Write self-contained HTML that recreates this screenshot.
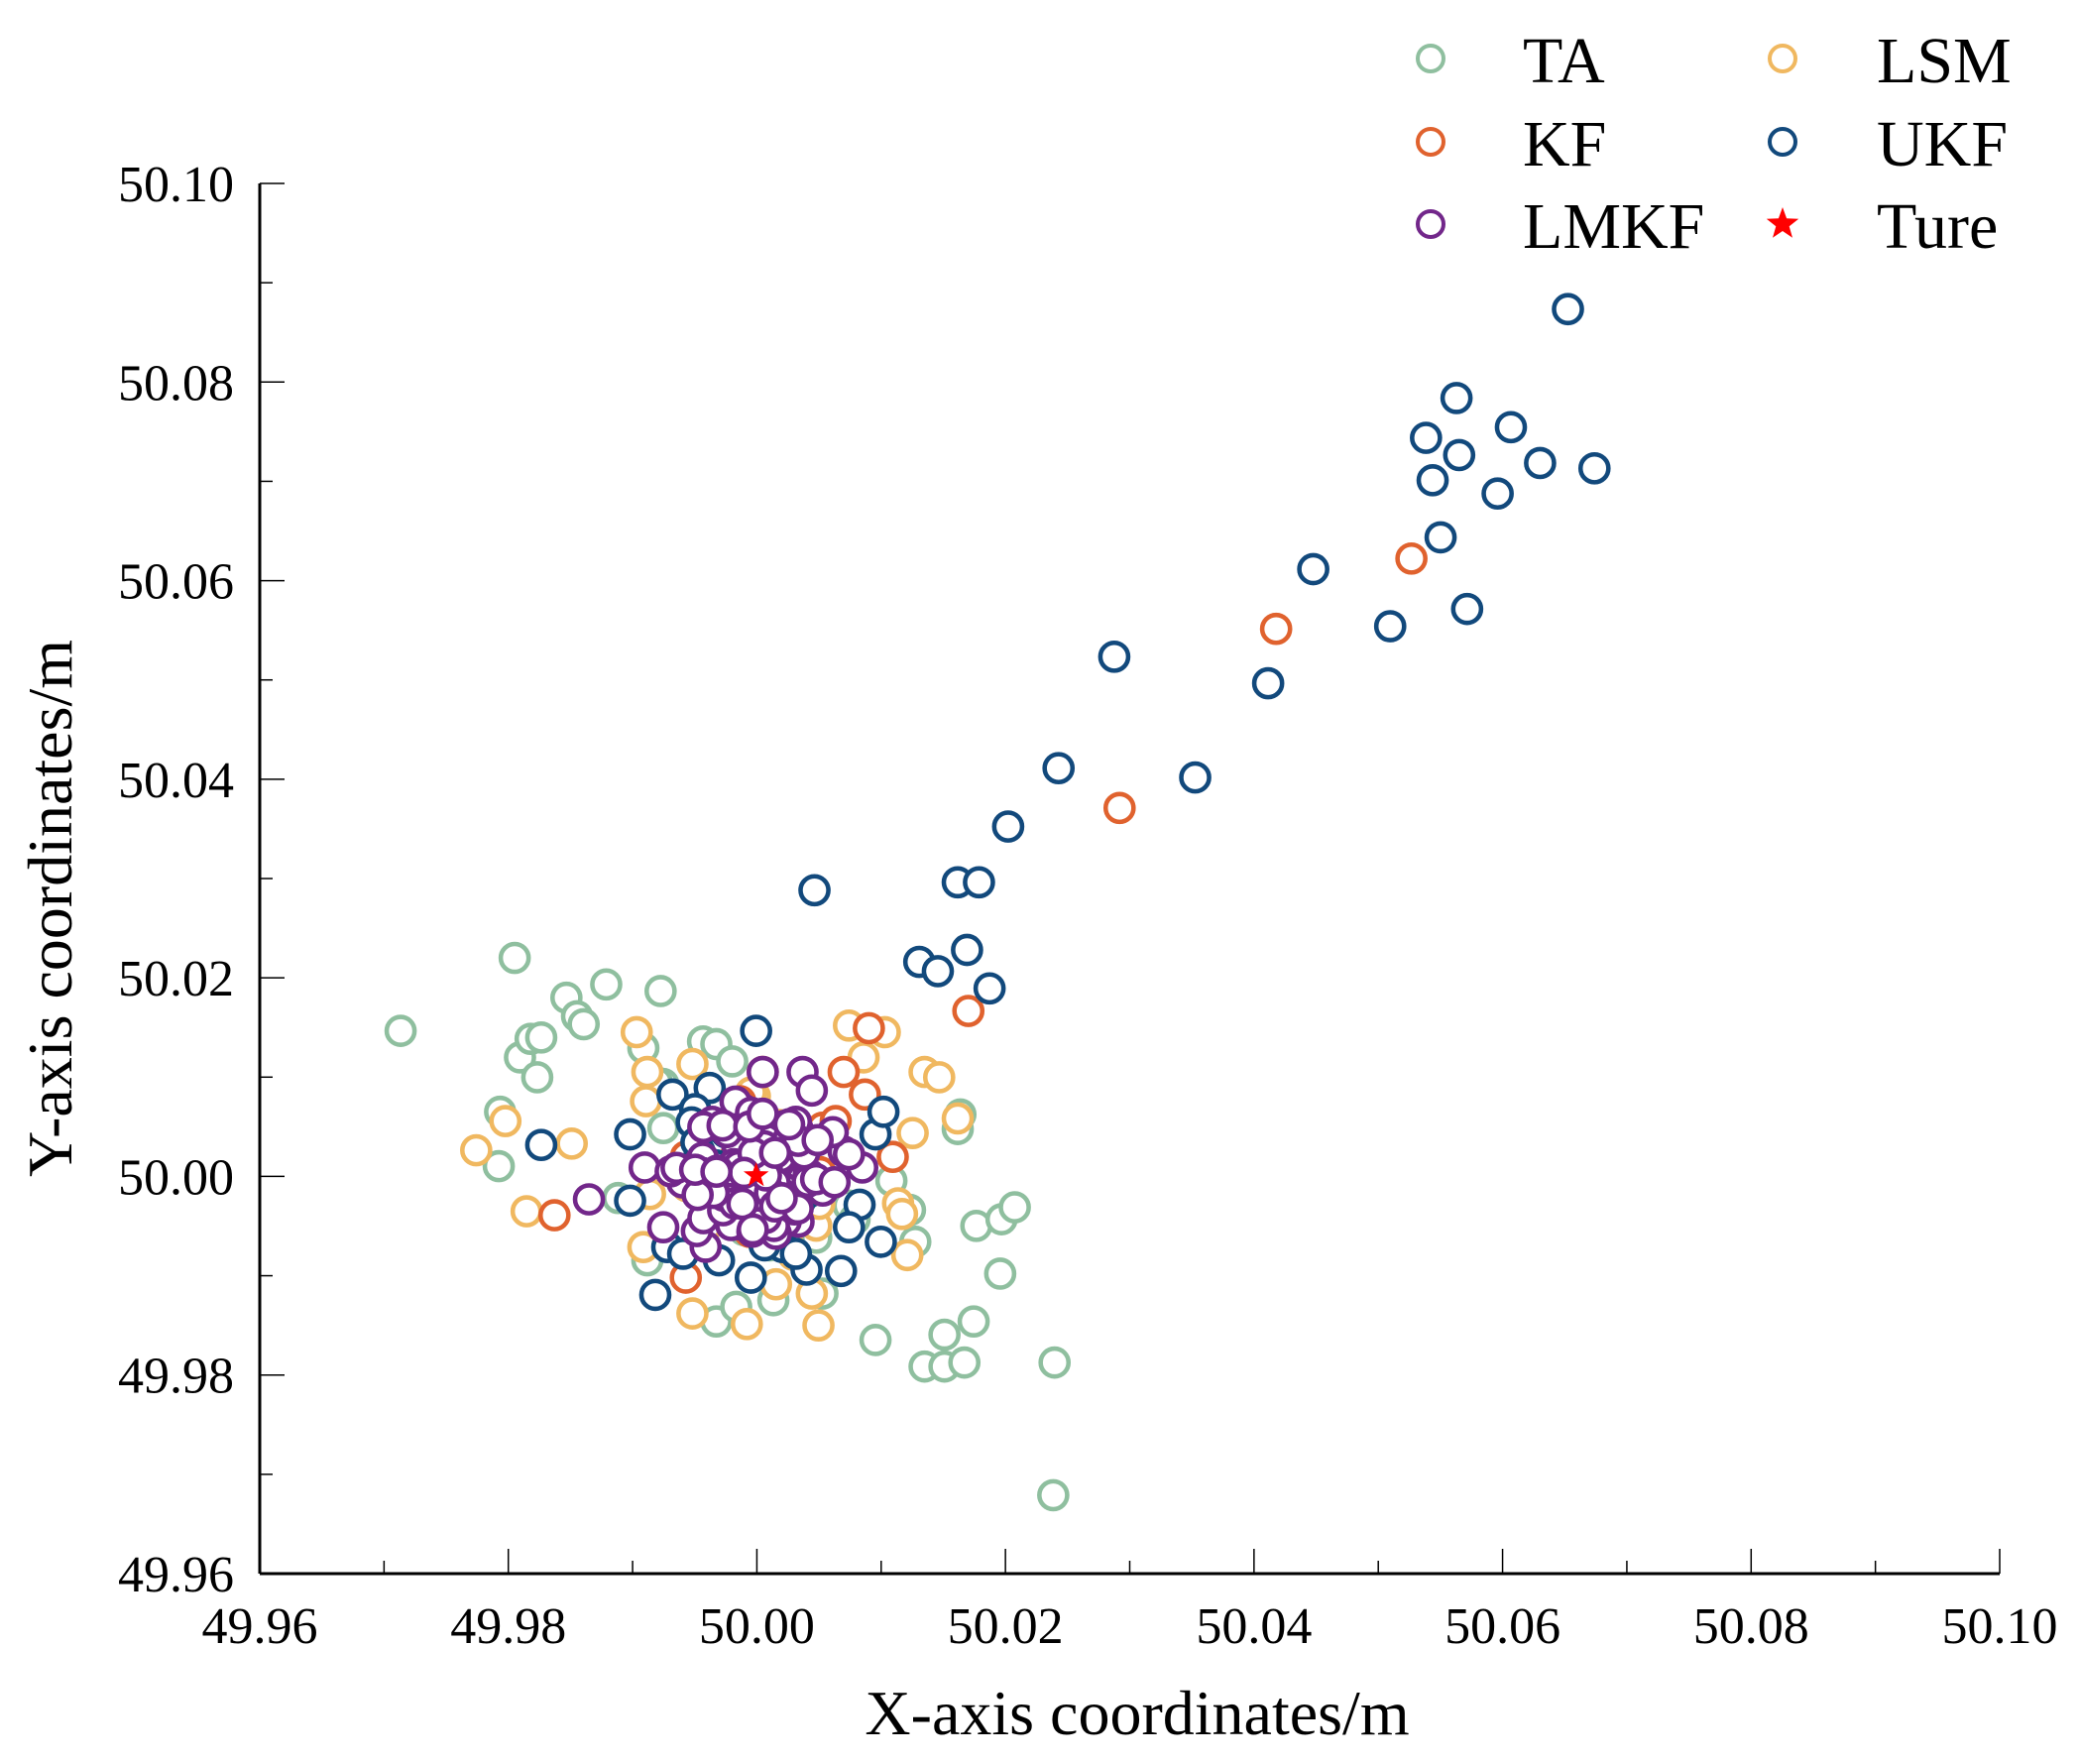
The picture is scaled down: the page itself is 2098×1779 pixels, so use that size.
<!DOCTYPE html>
<html><head><meta charset="utf-8"><style>
html,body{margin:0;padding:0;background:#fff;}
svg{display:block;}
text{font-family:"Liberation Serif",serif;fill:#000;}
</style></head><body>
<svg id="s" width="2098" height="1779" viewBox="0 0 2098 1779" xmlns="http://www.w3.org/2000/svg">
<g id="ax" stroke="#000" stroke-width="3" fill="none">
<line x1="262" y1="185" x2="262" y2="1587"/>
<line x1="262" y1="1587" x2="2017" y2="1587"/>
</g>
<g id="ticks" stroke="#000" stroke-width="1.5"></g>
<g id="lbl" font-size="52"></g>
<text x="1147" y="1749" font-size="64" text-anchor="middle">X-axis coordinates/m</text>
<text transform="translate(72,916) rotate(-90)" font-size="64" text-anchor="middle">Y-axis coordinates/m</text>
<g id="pts" transform="scale(1.338)"></g>
<g id="leg" font-size="66"></g>
</svg>
<script>
var NS="http://www.w3.org/2000/svg";
function el(p,t,a,txt){var e=document.createElementNS(NS,t);for(var k in a)e.setAttribute(k,a[k]);if(txt)e.textContent=txt;document.getElementById(p).appendChild(e);return e;}
for(var i=0;i<=14;i++){var x=262+i*1755/14,y=1587-i*1402/14,L=(i%2==0)?25:13;
el("ticks","line",{x1:x,y1:1587,x2:x,y2:1587-L});
el("ticks","line",{x1:262,y1:y,x2:262+L,y2:y});
if(i%2==0){var v=(49.96+i*0.01).toFixed(2);
el("lbl","text",{x:x,y:1657,"text-anchor":"middle"},v);
el("lbl","text",{x:236,y:y+18,"text-anchor":"end"},v);}}
var seed=7;function r(){seed=(seed*16807)%2147483647;return seed/2147483647;}
function g(){return (r()+r()+r()-1.5)/1.5;}
function dot(c,x,y){el("pts","circle",{cx:x,cy:y,r:10.5,fill:"#fff",stroke:c,"stroke-width":3.4});}
var C={TA:"#8fbf9f",LSM:"#f0b860",KF:"#e0622e",UKF:"#12497c",LMKF:"#72278a"};
var TA=[[302,777],[388,722],[457,742],[427,752],[498,747],[392,797],[405,812],[400,783],[408,782],[435,766],[440,772],[377,838],[376,879],[485,790],[530,785],[540,787],[500,817],[466,903],[672,890],[690,936],[686,912],[736,924],[755,919],[765,910],[754,960],[734,996],[712,1006],[660,1010],[697,1030],[712,1030],[727,1027],[795,1027],[794,1127],[722,851],[724,840],[540,996],[555,985],[583,980],[620,975],[488,950],[552,800]];
var LSM=[[359,867],[381,845],[431,862],[397,913],[480,778],[487,830],[488,808],[522,802],[640,773],[667,778],[651,797],[697,808],[708,812],[722,843],[688,854],[677,907],[684,946],[617,999],[563,998],[522,990],[585,968],[485,940],[490,900],[612,975],[680,915]];
var KF=[[1064,421],[962,474],[844,609],[730,762],[655,775],[418,916],[517,963],[673,872],[636,808],[652,825],[575,808],[558,830],[620,850],[630,845]];
var UKF=[[1182,233],[1098,300],[1075,330],[1100,343],[1139,322],[1161,349],[1202,353],[1080,362],[1129,372],[1086,405],[990,429],[1048,472],[1106,459],[840,495],[956,515],[798,579],[901,586],[760,623],[614,671],[722,665],[738,665],[693,725],[729,716],[707,732],[746,745],[570,777],[408,863],[475,855],[507,825],[535,820],[524,836],[660,855],[666,838],[648,908],[664,936],[640,925],[608,957],[634,958],[566,963],[542,950],[494,976],[475,905],[503,940],[515,945],[590,940],[600,945]];
var LM=[[444,904],[575,808],[605,808],[612,822],[636,868],[650,880],[486,880],[500,925],[640,870]];
function fill(arr,n,sx,sy){for(var i=0;i<n;i++)arr.push([570+g()*sx,885+g()*sy]);}
fill(TA,40,90,80);fill(LSM,40,80,75);fill(KF,30,70,65);fill(UKF,25,80,70);fill(LM,110,75,70);
[["TA",TA],["LSM",LSM],["KF",KF],["UKF",UKF],["LMKF",LM]].forEach(function(s){s[1].forEach(function(p){dot(C[s[0]],p[0],p[1]);});});
el("pts","polygon",{points:star(570,886,10,4),fill:"#ff0000"});
function star(cx,cy,R,r2){var p=[];for(var i=0;i<10;i++){var a=-Math.PI/2+i*Math.PI/5,rr=i%2?r2:R;p.push((cx+rr*Math.cos(a)).toFixed(1)+","+(cy+rr*Math.sin(a)).toFixed(1));}return p.join(" ");}
var LG=[["TA",1443,59,1536],["KF",1443,143,1536],["LMKF",1443,226,1536],["LSM",1798,59,1893],["UKF",1798,143,1893]];
LG.forEach(function(l){el("leg","circle",{cx:l[1],cy:l[2],r:13,fill:"#fff",stroke:C[l[0]],"stroke-width":4});el("leg","text",{x:l[3],y:l[2]+24},l[0]);});
el("leg","polygon",{points:star(1798,226,17,7),fill:"#ff0000"});
el("leg","text",{x:1893,y:250},"Ture");
</script>
</body></html>
